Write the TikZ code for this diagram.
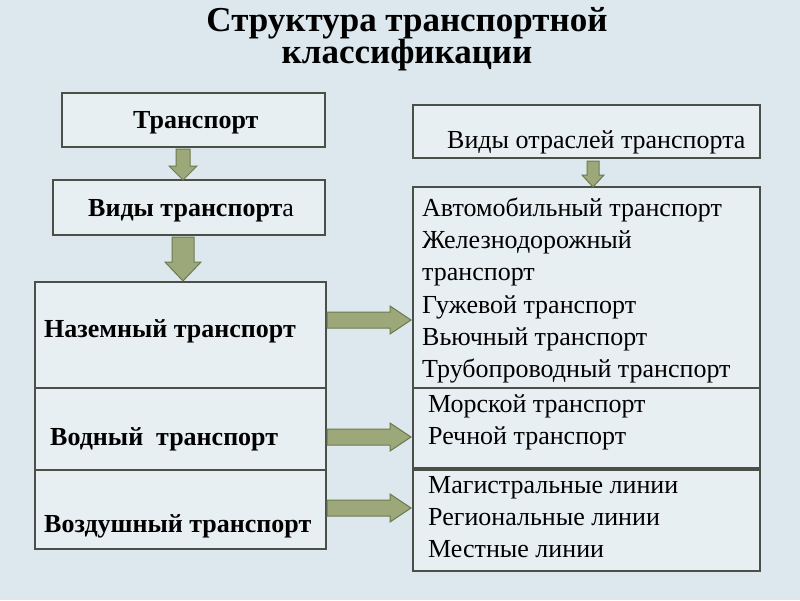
\documentclass[tikz,border=0pt]{standalone}
\usepackage{fontspec}
\setmainfont{Liberation Serif}
\definecolor{bg}{HTML}{DCE7EE}
\definecolor{boxf}{HTML}{E8EFF3}
\definecolor{boxd}{HTML}{4A4F48}
\definecolor{arrf}{HTML}{9DA87A}
\definecolor{arrd}{HTML}{6E7A4E}
\tikzset{
 bx/.style={draw=boxd,line width=1.6pt,fill=boxf},
 txt/.style={font=\fontsize{26}{30}\selectfont,anchor=base west,inner sep=0pt},
 btxt/.style={txt,font=\fontsize{26}{30}\selectfont\bfseries},
 blk/.style={fill=arrf,draw=arrd,line width=1pt}
}
\begin{document}
\begin{tikzpicture}[x=1pt,y=-1pt]
\fill[bg] (0,0) rectangle (800,600);
\useasboundingbox (0,0) rectangle (800,600);
\node[font=\fontsize{35}{32}\selectfont\bfseries,anchor=base] (title1) at (407,31) {Структура транспортной};
\node[font=\fontsize{35}{32}\selectfont\bfseries,anchor=base] (title2) at (407,63) {классификации};
% left boxes
\draw[bx] (62,93) rectangle (325,147);
\node[btxt] (tr) at (133,128) {Транспорт};
\draw[bx] (53,180) rectangle (325,235);
\node[btxt] (vt) at (88,216) {Виды транспорт\textmd{а}};
\draw[bx] (35,282) rectangle (326,388);
\node[btxt] (naz) at (44,337) {Наземный транспорт};
\draw[bx] (35,388) rectangle (326,470);
\node[btxt] (vod) at (50,445) {Водный\ \ транспорт};
\draw[bx] (35,470) rectangle (326,549);
\node[btxt] (voz) at (44,532) {Воздушный транспорт};
% right boxes
\draw[bx] (413,105) rectangle (760,158);
\node[txt] (vo) at (447,148) {Виды отраслей транспорта};
\draw[bx] (413,187) rectangle (760,388);
\foreach \t [count=\i] in {Автомобильный транспорт,Железнодорожный,транспорт,Гужевой транспорт,Вьючный транспорт,Трубопроводный транспорт}
 \node[txt] (ra\i) at (422,184+\i*32.3) {\t};
\draw[bx] (413,388) rectangle (760,468);
\foreach \t [count=\i] in {Морской транспорт,Речной транспорт}
 \node[txt] (rb\i) at (428,380+\i*32) {\t};
\draw[bx] (413,470) rectangle (760,571);
\foreach \t [count=\i] in {Магистральные линии,Региональные линии,Местные линии}
 \node[txt] (rc\i) at (428,461+\i*32) {\t};
% block arrows
\draw[blk] (176,149)--(190,149)--(190,166)--(197,166)--(183,180)--(169,166)--(176,166)--cycle;
\draw[blk] (172,237)--(194,237)--(194,262)--(201,262)--(183,281)--(165,262)--(172,262)--cycle;
\draw[blk] (587,161)--(599,161)--(599,175)--(604,175)--(593,187)--(582,175)--(587,175)--cycle;
\foreach \yy in {320,437,508}{
 \draw[blk] (327,\yy-8)--(390,\yy-8)--(390,\yy-14)--(411,\yy)--(390,\yy+14)--(390,\yy+8)--(327,\yy+8)--cycle;}
\end{tikzpicture}
\end{document}
